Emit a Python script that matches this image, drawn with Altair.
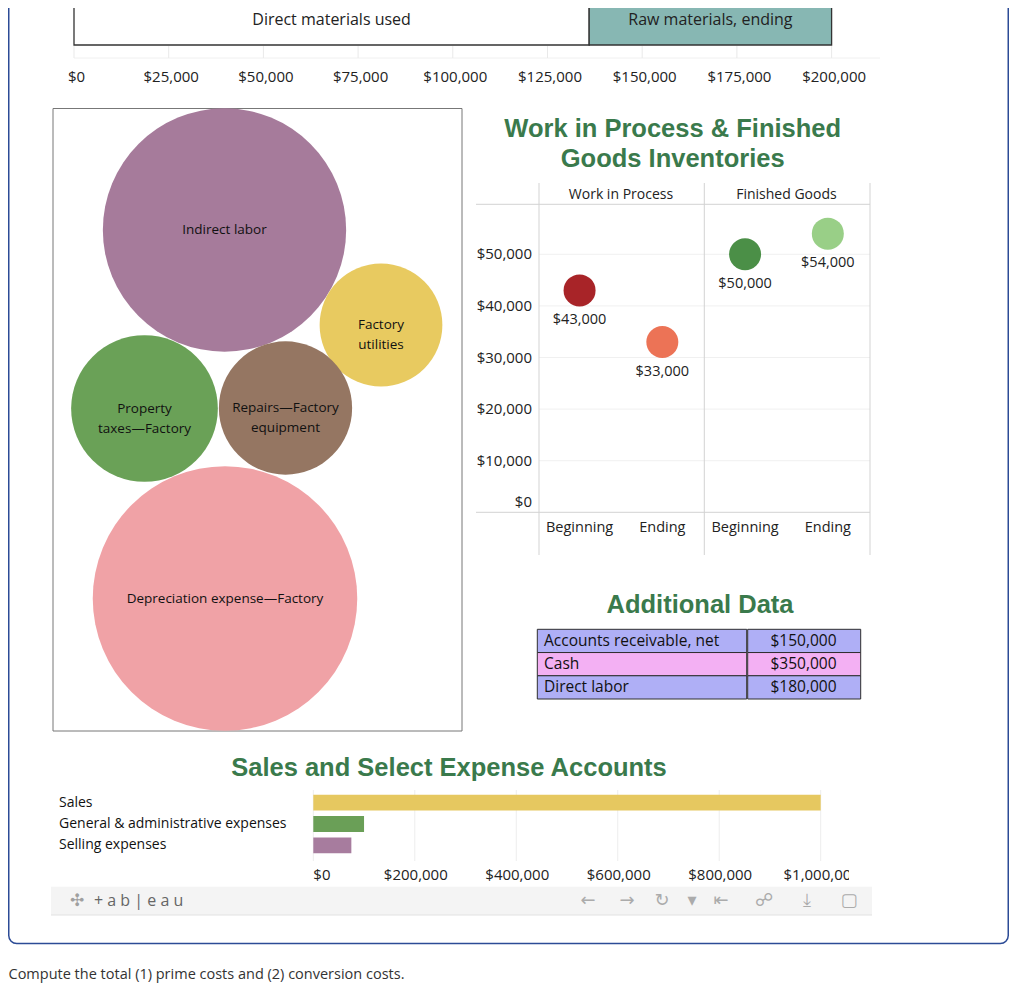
import altair as alt
import pandas as pd

# ---------------- data ----------------
top_categories = ["Direct materials used", "Raw materials, ending"]
top_values = [136000, 64000]
top_colors = ["#ffffff", "#87b7b3"]
top_ticks = [0, 25000, 50000, 75000, 100000, 125000, 150000, 175000, 200000]

bubble_labels = ["Indirect labor", "Factory\nutilities", "Property\ntaxes\u2014Factory",
                 "Repairs\u2014Factory\nequipment", "Depreciation expense\u2014Factory"]
bubble_values = [55000, 14000, 20000, 16500, 65000]
bubble_colors = ["#a67b9b", "#e8ca60", "#6aa157", "#957662", "#f0a2a6"]

inv_panels = ["Work in Process", "Work in Process", "Finished Goods", "Finished Goods"]
inv_periods = ["Beginning", "Ending", "Beginning", "Ending"]
inv_values = [43000, 33000, 50000, 54000]
inv_colors = ["#a82428", "#ec7356", "#4b8f47", "#99cf87"]
inv_ticks = [0, 10000, 20000, 30000, 40000, 50000]

add_labels = ["Accounts receivable, net", "Cash", "Direct labor"]
add_values = [150000, 350000, 180000]
add_colors = ["#afaff6", "#f3b0f3", "#afaff6"]

sales_categories = ["Sales", "General & administrative expenses", "Selling expenses"]
sales_values = [1000000, 100000, 75000]
sales_colors = ["#e6c860", "#6a9f57", "#a77c9e"]
sales_ticks = [0, 200000, 400000, 600000, 800000, 1000000]

# ---------------- layout (page pixels) ----------------
M = 8
W, H = 1008, 980


def P(v):
    return v - M


bubble_cx = [224.5, 381, 144.5, 285.5, 225]
bubble_cy = [230, 325, 408.5, 408, 598.5]
BUBBLE_MAX_DIAM = 264.5

FONT = "Open Sans"
TFONT = "Liberation Sans"
GREEN = "#3a7a4c"
TXT = "#222222"
dummy = alt.Data(values=[{"d": 1}])

PX = alt.Scale(domain=[0, 1024], range=[-M, 1024 - M], nice=False, zero=False)
PY = alt.Scale(domain=[0, 996], range=[-M, 996 - M], nice=False, zero=False)

layers = []


def label(text, x, y, size, color=TXT, font=FONT, weight="normal", align="center", baseline="middle"):
    return alt.Chart(dummy).mark_text(text=text, font=font, fontSize=size, fontWeight=weight,
                                      color=color, align=align, baseline=baseline).encode(
        x=alt.value(P(x)), y=alt.value(P(y)))


def box(x1, x2, y1, y2, fill="#ffffff", stroke="#ffffff", sw=0, fo=1, radius=0):
    return alt.Chart(dummy).mark_rect(fill=fill, fillOpacity=fo, stroke=stroke, strokeWidth=sw,
                                      cornerRadius=radius).encode(
        x=alt.value(x1), x2=alt.value(x2), y=alt.value(y1), y2=alt.value(y2))


def segs(rows, color, width=1):
    df = pd.DataFrame(rows, columns=["x1", "y1", "x2", "y2"])
    return alt.Chart(df).mark_rule(color=color, strokeWidth=width).encode(
        x=alt.X("x1:Q", scale=PX, axis=None), x2="x2:Q",
        y=alt.Y("y1:Q", scale=PY, axis=None), y2="y2:Q")


money = "$,.0f"

# ---------------- page frame ----------------
layers.append(box(0.75, P(1008.25), -40, P(943.5), fill="#ffffff", stroke="#2c4b96", sw=1.5, fo=0, radius=8))

# ---------------- top stacked bar ----------------
top_df = pd.DataFrame({"category": top_categories, "amount": top_values})
top_df["start"] = top_df["amount"].cumsum() - top_df["amount"]
top_df["end"] = top_df["amount"].cumsum()
top_x = alt.Scale(domain=[0, 200000], range=[P(74), P(831.6)], nice=False)
tick_top = pd.DataFrame({"tick": top_ticks})

layers.append(segs([[74, 58, 880, 58]], "#f0f0f0"))
layers.append(alt.Chart(tick_top).mark_rule(color="#e9e9e9").encode(
    x=alt.X("tick:Q", scale=top_x, axis=None), y=alt.value(P(46)), y2=alt.value(P(58))))
layers.append(alt.Chart(top_df).mark_rect(stroke="#333333", strokeWidth=1.3).encode(
    x=alt.X("start:Q", scale=top_x, axis=None), x2="end:Q",
    y=alt.value(-40), y2=alt.value(P(45)),
    fill=alt.Fill("category:N", scale=alt.Scale(domain=top_categories, range=top_colors), legend=None)))
layers.append(alt.Chart(top_df).transform_calculate(mid="(datum.start + datum.end) / 2").mark_text(
    font=FONT, fontSize=16, color=TXT, baseline="top").encode(
    x=alt.X("mid:Q", scale=top_x, axis=None), y=alt.value(4), text="category:N"))
layers.append(alt.Chart(tick_top).mark_text(font=FONT, fontSize=15, color=TXT, dx=2.5).encode(
    x=alt.X("tick:Q", scale=top_x, axis=None), y=alt.value(P(76.7)),
    text=alt.Text("tick:Q", format=money)))

# ---------------- bubble chart ----------------
layers.append(box(P(53), P(462), P(108.5), P(731), stroke="#777777", sw=1, fo=0))
bub_df = pd.DataFrame({"item": bubble_labels, "amount": bubble_values, "cx": bubble_cx, "cy": bubble_cy})
layers.append(alt.Chart(bub_df).mark_circle(opacity=1).encode(
    x=alt.X("cx:Q", scale=PX, axis=None), y=alt.Y("cy:Q", scale=PY, axis=None),
    size=alt.Size("amount:Q", scale=alt.Scale(domain=[0, 65000], range=[0, BUBBLE_MAX_DIAM ** 2]), legend=None),
    color=alt.Color("item:N", scale=alt.Scale(domain=bubble_labels, range=bubble_colors), legend=None)))
layers.append(alt.Chart(bub_df).mark_text(font=FONT, fontSize=13.5, color="#111111", lineBreak="\n",
                                          lineHeight=20, baseline="middle").encode(
    x=alt.X("cx:Q", scale=PX, axis=None), y=alt.Y("cy:Q", scale=PY, axis=None), text="item:N"))

# ---------------- inventories ----------------
layers.append(label("Work in Process & Finished", 672.7, 128.5, 25.5, color=GREEN, font=TFONT, weight="bold"))
layers.append(label("Goods Inventories", 672.7, 158.5, 25.5, color=GREEN, font=TFONT, weight="bold"))

inv_keys = [f"{p}|{q}" for p, q in zip(inv_panels, inv_periods)]
inv_df = pd.DataFrame({"key": inv_keys, "panel": inv_panels, "period": inv_periods, "amount": inv_values})
inv_x = alt.Scale(type="point", domain=inv_keys, range=[P(538.2), P(869.2)], padding=0.5)
inv_px = alt.Scale(type="point", domain=["Work in Process", "Finished Goods"],
                   range=[P(538.2), P(869.2)], padding=0.5)
inv_y = alt.Scale(domain=[0, 60000], range=[P(512.3), P(202.7)], nice=False)
grid_inv = pd.DataFrame({"tick": inv_ticks[1:]})

layers.append(alt.Chart(grid_inv).mark_rule(color="#f0f0f0").encode(
    y=alt.Y("tick:Q", scale=inv_y, axis=None), x=alt.value(P(539)), x2=alt.value(P(870))))
layers.append(segs([[539, 183, 539, 555], [704.3, 183, 704.3, 555], [870, 183, 870, 555],
                    [476, 204.3, 870, 204.3], [476, 512.3, 870, 512.3]], "#d3d3d3"))
layers.append(alt.Chart(inv_df).mark_circle(size=1024, opacity=1).encode(
    x=alt.X("key:N", scale=inv_x, axis=None), y=alt.Y("amount:Q", scale=inv_y, axis=None),
    color=alt.Color("key:N", scale=alt.Scale(domain=inv_keys, range=inv_colors), legend=None)))
layers.append(alt.Chart(inv_df).mark_text(font=FONT, fontSize=14.5, color=TXT, dy=29.5).encode(
    x=alt.X("key:N", scale=inv_x, axis=None), y=alt.Y("amount:Q", scale=inv_y, axis=None),
    text=alt.Text("amount:Q", format=money)))
layers.append(alt.Chart(inv_df).mark_text(font=FONT, fontSize=14.5, color=TXT).encode(
    x=alt.X("key:N", scale=inv_x, axis=None), y=alt.value(P(528.3)), text="period:N"))
layers.append(alt.Chart(pd.DataFrame({"panel": ["Work in Process", "Finished Goods"]})).mark_text(
    font=FONT, fontSize=14, color=TXT).encode(
    x=alt.X("panel:N", scale=inv_px, axis=None), y=alt.value(P(195)), text="panel:N"))
layers.append(alt.Chart(grid_inv).mark_text(font=FONT, fontSize=15, color=TXT, align="right").encode(
    y=alt.Y("tick:Q", scale=inv_y, axis=None), x=alt.value(P(532)), text=alt.Text("tick:Q", format=money)))
layers.append(alt.Chart(pd.DataFrame({"tick": inv_ticks[:1]})).mark_text(
    font=FONT, fontSize=15, color=TXT, align="right", dy=-10).encode(
    y=alt.Y("tick:Q", scale=inv_y, axis=None), x=alt.value(P(532)), text=alt.Text("tick:Q", format=money)))

# ---------------- additional data ----------------
layers.append(label("Additional Data", 700, 605, 25.5, color=GREEN, font=TFONT, weight="bold"))
add_df = pd.DataFrame({"label": add_labels, "amount": add_values})
add_band = alt.Scale(type="band", domain=add_labels, range=[P(629.3), P(699)], paddingInner=0, paddingOuter=0)
add_pt = alt.Scale(type="point", domain=add_labels, range=[P(629.3), P(699)], padding=0.5)
add_fill = alt.Scale(domain=add_labels, range=add_colors)
for x1, x2 in [(537.3, 746.7), (747.7, 860.7)]:
    layers.append(alt.Chart(add_df).mark_rect(stroke="#2e2e2e", strokeWidth=1).encode(
        y=alt.Y("label:N", scale=add_band, axis=None), x=alt.value(P(x1)), x2=alt.value(P(x2)),
        fill=alt.Fill("label:N", scale=add_fill, legend=None)))
layers.append(alt.Chart(add_df).mark_text(font=FONT, fontSize=15.5, color="#111111", align="left").encode(
    y=alt.Y("label:N", scale=add_pt, axis=None), x=alt.value(P(544)), text="label:N"))
layers.append(alt.Chart(add_df).mark_text(font=FONT, fontSize=15.5, color="#111111").encode(
    y=alt.Y("label:N", scale=add_pt, axis=None), x=alt.value(P(803.5)), text=alt.Text("amount:Q", format=money)))

# ---------------- sales & expenses ----------------
layers.append(label("Sales and Select Expense Accounts", 449, 768, 25.5, color=GREEN, font=TFONT, weight="bold"))
sales_df = pd.DataFrame({"category": sales_categories, "amount": sales_values})
sales_x = alt.Scale(domain=[0, 1000000], range=[P(313.3), P(820.7)], nice=False)
sales_band = alt.Scale(type="band", domain=sales_categories, range=[P(792), P(856)],
                       paddingInner=0.26, paddingOuter=0.13)
sales_pt = alt.Scale(type="point", domain=sales_categories, range=[P(792), P(856)], padding=0.5)
tick_sales = pd.DataFrame({"tick": sales_ticks})
layers.append(alt.Chart(tick_sales).mark_rule(color="#ededed").encode(
    x=alt.X("tick:Q", scale=sales_x, axis=None), y=alt.value(P(790)), y2=alt.value(P(861))))
layers.append(alt.Chart(sales_df).mark_bar().encode(
    x=alt.X("amount:Q", scale=sales_x, axis=None),
    y=alt.Y("category:N", scale=sales_band, axis=None),
    color=alt.Color("category:N", scale=alt.Scale(domain=sales_categories, range=sales_colors), legend=None)))
layers.append(alt.Chart(sales_df).mark_text(font=FONT, fontSize=14, color="#111111", align="left").encode(
    y=alt.Y("category:N", scale=sales_pt, axis=None), x=alt.value(P(59)), text="category:N"))
layers.append(alt.Chart(pd.DataFrame({"tick": sales_ticks[1:]})).mark_text(
    font=FONT, fontSize=15, color=TXT, dx=1).encode(
    x=alt.X("tick:Q", scale=sales_x, axis=None), y=alt.value(P(875)), text=alt.Text("tick:Q", format=money)))
layers.append(alt.Chart(pd.DataFrame({"tick": sales_ticks[:1]})).mark_text(
    font=FONT, fontSize=15, color=TXT, align="left").encode(
    x=alt.X("tick:Q", scale=sales_x, axis=None), y=alt.value(P(875)), text=alt.Text("tick:Q", format=money)))
layers.append(box(P(849), P(875), P(864), P(885)))

# ---------------- tableau toolbar ----------------
layers.append(box(P(51), P(872), P(886.7), P(915), fill="#f4f4f4"))
layers.append(segs([[51, 915, 872, 915]], "#e2e2e2"))
layers.append(label("\u2723", 77, 900.5, 17, color="#a0a0a0", font="DejaVu Sans"))
layers.append(label("+ a b | e a u", 94, 900.5, 16, color="#666666", font=FONT, align="left"))
for ch, x in [("\u2190", 588), ("\u2192", 627), ("\u21bb", 662), ("\u25be", 692), ("\u21e4", 721),
              ("\u260d", 764), ("\u2913", 807), ("\u25a2", 849)]:
    layers.append(label(ch, x, 901, 18, color="#ababab", font="DejaVu Sans"))

# ---------------- question text ----------------
layers.append(label("Compute the total (1) prime costs and (2) conversion costs.", 8.5, 975, 14.5,
                    color="#333333", font=FONT, align="left"))

chart = alt.layer(*layers).properties(
    width=W, height=H, padding=0, autosize=alt.AutoSizeParams(type="none")
).resolve_scale(
    x="independent", y="independent", color="independent", size="independent", fill="independent"
).configure_view(strokeOpacity=0)

chart.save("out.html", embed_options={"renderer": "svg", "actions": False})
